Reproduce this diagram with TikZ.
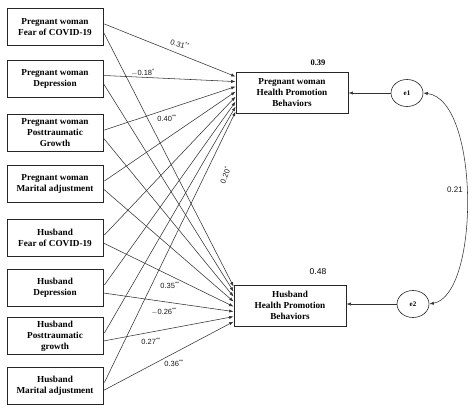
\documentclass[tikz,border=0pt]{standalone}
\usepackage{fontspec}
\setmainfont{Liberation Serif}
\setsansfont{Liberation Sans}
\usetikzlibrary{arrows.meta,calc,shapes.geometric}
\begin{document}
\begin{tikzpicture}[x=1pt,y=-1pt,
  src/.style={draw=black!85,line width=0.8pt,minimum width=96pt,minimum height=37pt,align=center,inner sep=1pt,font=\fontsize{9.2}{11}\selectfont\bfseries},
  tgt/.style={draw=black!85,line width=0.8pt,minimum width=112pt,minimum height=41pt,align=center,inner sep=1pt,font=\fontsize{9.2}{11}\selectfont\bfseries},
  err/.style={draw=black!85,line width=0.6pt,ellipse,minimum width=32pt,minimum height=27pt,inner sep=0pt,font=\fontsize{7}{8}\selectfont\bfseries},
  conn/.style={draw=black!80,line width=0.55pt,-{Latex[length=4.5pt,width=3.2pt]}},
  coef/.style={font=\sffamily\fontsize{7.5}{8}\selectfont,text=black!90,inner sep=0.5pt}
]
\path[use as bounding box] (0,0) rectangle (474,409);

% source boxes
\node[src] (s1) at (55,27) {Pregnant woman\\Fear of COVID-19};
\node[src] (s2) at (55,78.5) {Pregnant woman\\Depression};
\node[src] (s3) at (55,133) {Pregnant woman\\Posttraumatic\\Growth};
\node[src] (s4) at (55,184) {Pregnant woman\\Marital adjustment};
\node[src] (s5) at (55,238) {Husband\\Fear of COVID-19};
\node[src] (s6) at (55,288) {Husband\\Depression};
\node[src] (s7) at (55,336) {Husband\\Posttraumatic\\growth};
\node[src] (s8) at (55,385.5) {Husband\\Marital adjustment};

% target boxes
\node[tgt] (t1) at (292,92.5) {Pregnant woman\\Health Promotion\\Behaviors};
\node[tgt] (t2) at (290,305.5) {Husband\\Health Promotion\\Behaviors};

\node[font=\fontsize{8.5}{10}\selectfont\bfseries] (r1) at (318,63) {0.39};
\node[font=\sffamily\fontsize{8.5}{10}\selectfont] (r2) at (318,272) {0.48};

% error terms
\node[err] (e1) at (407,93) {e1};
\node[err] (e2) at (413,304) {e2};

% paths to t1 and t2
\foreach \i in {1,...,8}{
  \coordinate (a\i) at ($(t1.north west)+(0,{5*\i})$);
  \coordinate (b\i) at ($(t2.north west)+(0,{5*\i-3})$);
  \draw[conn] ($(s\i.east)+(1,-3)$) -- (a\i);
  \draw[conn] ($(s\i.east)+(0,5)$) -- (b\i);
}

% error arrows
\draw[conn] (e1.west) -- (e1.west -| t1.east);
\draw[conn] (e2.west) -- (e2.west -| t2.east);
\draw[draw=black!80,line width=0.55pt,{Latex[length=4.5pt,width=3.2pt]}-{Latex[length=4.5pt,width=3.2pt]}]
  (e1.east) .. controls (480,100) and (480,295) .. (e2.east);
\node[coef,font=\sffamily\fontsize{8}{9}\selectfont] (c21) at (455,190) {0.21};

% coefficient labels
\node[coef,rotate=-17] (c1) at (180,44) {0.31\textsuperscript{**}};
\node[coef] (c2) at (143,73) {$-$0.18\textsuperscript{*}};
\node[coef] (c3) at (167,118) {0.40\textsuperscript{**}};
\node[coef,rotate=68] (c4) at (225,175) {0.20\textsuperscript{*}};
\node[coef] (c5) at (170,285) {0.35\textsuperscript{**}};
\node[coef] (c6) at (164,312) {$-$0.26\textsuperscript{**}};
\node[coef] (c7) at (151,341) {0.27\textsuperscript{**}};
\node[coef] (c8) at (174,363) {0.36\textsuperscript{**}};
\end{tikzpicture}
\end{document}
